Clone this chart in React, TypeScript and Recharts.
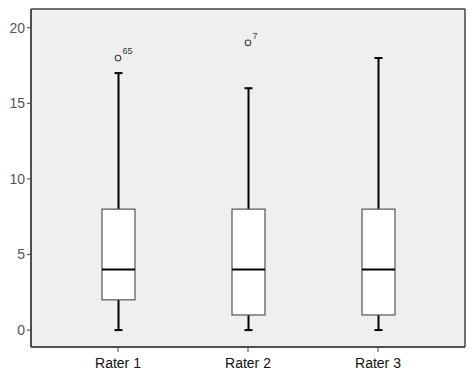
import React from 'react';
import { ComposedChart, Bar, Scatter, XAxis, YAxis, CartesianGrid, LabelList } from 'recharts';

const raters = ['Rater 1', 'Rater 2', 'Rater 3'];
const lowWhisker = [0, 0, 0];
const q1 = [2, 1, 1];
const medians = [4, 4, 4];
const q3 = [8, 8, 8];
const highWhisker = [17, 16, 18];
const outliers: (number | null)[] = [18, 19, null];
const outlierIds = ['65', '7', ''];
const yTicks = [0, 5, 10, 15, 20];

const data = raters.map((name, i) => ({
  name,
  min: lowWhisker[i],
  q1: q1[i],
  median: medians[i],
  q3: q3[i],
  max: highWhisker[i],
  range: [lowWhisker[i], highWhisker[i]],
  outlier: outliers[i],
  outlierId: outlierIds[i],
}));

interface BoxShapeProps { x?: number; y?: number; width?: number; height?: number; payload?: any; }

function BoxShape({ x = 0, y = 0, width = 0, height = 0, payload }: BoxShapeProps) {
  const { min, q1: lo, median, q3: hi, max } = payload;
  const perUnit = height / (max - min);
  const toY = (v: number) => y + (max - v) * perUnit;
  const cx = x + width / 2;
  const cap = 4;
  return (
    <g>
      <line x1={cx} x2={cx} y1={toY(max)} y2={toY(hi)} stroke="#000" strokeWidth={2} />
      <line x1={cx} x2={cx} y1={toY(lo)} y2={toY(min)} stroke="#000" strokeWidth={2} />
      <line x1={cx - cap} x2={cx + cap} y1={toY(max)} y2={toY(max)} stroke="#000" strokeWidth={2} />
      <line x1={cx - cap} x2={cx + cap} y1={toY(min)} y2={toY(min)} stroke="#000" strokeWidth={2} />
      <rect x={x} y={toY(hi)} width={width} height={toY(lo) - toY(hi)} fill="#fff" stroke="#555" strokeWidth={1.2} />
      <line x1={x} x2={x + width} y1={toY(median)} y2={toY(median)} stroke="#000" strokeWidth={2} />
    </g>
  );
}

function OutlierDot({ cx, cy }: { cx?: number; cy?: number }) {
  if (cx == null || cy == null) return null;
  return <circle cx={cx} cy={cy} r={2.8} fill="none" stroke="#444" strokeWidth={1.1} />;
}

const font = 'Arial, Liberation Sans, sans-serif';

export default function App() {
  return (
    <div style={{ position: 'absolute', left: 0, top: 0, width: 474, height: 379, background: '#fff' }}>
      <ComposedChart width={474} height={379} data={data} margin={{ top: 9, right: 9, bottom: 0, left: 0 }}>
        <CartesianGrid fill="#efefef" horizontal={false} vertical={false} />
        {/* frame around the plot area */}
        <CartesianGrid stroke="#444" strokeWidth={1.5} fill="none"
          horizontalCoordinatesGenerator={({ offset }: any) => [offset.top, offset.top + offset.height]}
          verticalCoordinatesGenerator={({ offset }: any) => [offset.left, offset.left + offset.width]} />
        <XAxis dataKey="name" height={32} padding={{ left: 22, right: 22 }} axisLine={{ stroke: '#444', strokeWidth: 1.5 }} tickLine={{ stroke: '#444' }} tickSize={5}
          tick={{ fill: '#111', fontSize: 14, fontFamily: font }} dy={4} />
        <YAxis domain={[-1.12, 21.24]} ticks={yTicks} allowDataOverflow width={31} axisLine={{ stroke: '#444', strokeWidth: 1.5 }} tickLine={{ stroke: '#444' }} tickSize={4}
          tick={{ fill: '#555', fontSize: 14, fontFamily: font }} />
        <Bar dataKey="range" barSize={33} shape={<BoxShape />} isAnimationActive={false} />
        <Scatter dataKey="outlier" shape={<OutlierDot />} isAnimationActive={false}>
          <LabelList dataKey="outlierId" position="right" offset={0} dy={-7} style={{ fill: '#333', fontSize: 9, fontFamily: font }} />
        </Scatter>
      </ComposedChart>
    </div>
  );
}
